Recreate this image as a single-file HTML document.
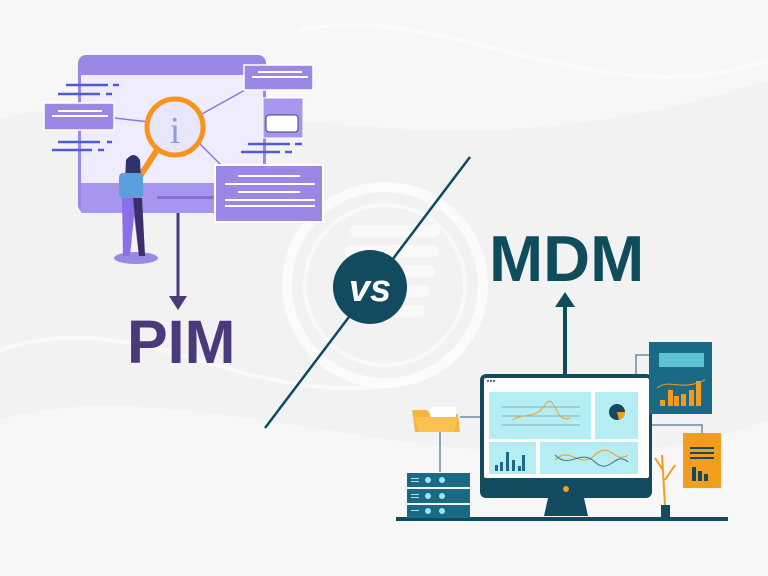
<!DOCTYPE html>
<html><head><style>body{margin:0;background:#f1f1f1}svg{display:block}</style></head><body>
<svg width="768" height="576" viewBox="0 0 768 576" xmlns="http://www.w3.org/2000/svg" font-family="Liberation Sans, sans-serif">
<rect width="768" height="576" fill="#f2f2f2"/>
<path d="M0 120 C200 60 400 200 768 80 L768 0 L0 0Z" fill="#f7f7f7"/>
<path d="M0 420 C200 360 500 520 768 420 L768 576 L0 576Z" fill="#f7f7f7"/>
<path d="M300 30 C450 0 600 120 768 60" stroke="#fff" stroke-width="4" fill="none" opacity=".5"/>
<path d="M0 350 C150 300 250 420 420 380" stroke="#fff" stroke-width="4" fill="none" opacity=".5"/>
<!-- watermark -->
<circle cx="385" cy="285" r="98" fill="none" stroke="#fff" stroke-width="10" opacity=".7"/>
<circle cx="385" cy="285" r="80" fill="none" stroke="#fff" stroke-width="4" opacity=".5"/>
<g fill="#fff" opacity=".6"><rect x="350" y="225" width="90" height="12" rx="6"/><rect x="345" y="245" width="95" height="12" rx="6"/><rect x="345" y="265" width="90" height="12" rx="6"/><rect x="350" y="285" width="80" height="12" rx="6"/><rect x="355" y="305" width="70" height="12" rx="6"/></g>
<!-- left monitor -->
<rect x="78" y="55" width="188" height="158" rx="8" fill="#9b87e6"/>
<rect x="81" y="75" width="182" height="108" fill="#efecfd"/>
<rect x="81" y="183" width="182" height="30" fill="#a896ee"/>
<rect x="157" y="196" width="60" height="3" fill="#8472d6"/>
<line x1="178" y1="213" x2="178" y2="298" stroke="#4b3a7a" stroke-width="3"/>
<polygon points="169,296 187,296 178,310" fill="#4b3a7a"/>
<g stroke="#4f5bd5" stroke-width="2.5"><line x1="66" y1="85" x2="108" y2="85"/><line x1="113" y1="85" x2="119" y2="85"/><line x1="58" y1="94" x2="100" y2="94"/><line x1="106" y1="94" x2="112" y2="94"/><line x1="58" y1="142" x2="100" y2="142"/><line x1="107" y1="142" x2="112" y2="142"/><line x1="52" y1="150" x2="92" y2="150"/><line x1="98" y1="150" x2="104" y2="150"/><line x1="248" y1="144" x2="290" y2="144"/><line x1="295" y1="144" x2="302" y2="144"/><line x1="241" y1="152" x2="280" y2="152"/><line x1="285" y1="152" x2="292" y2="152"/></g>
<g stroke="#8a78e0" stroke-width="1.5"><line x1="114" y1="118" x2="150" y2="122"/><line x1="200" y1="115" x2="245" y2="90"/><line x1="198" y1="142" x2="222" y2="166"/></g>
<rect x="44" y="103" width="70" height="27" fill="#9b87e6" stroke="#fff" stroke-width="1.5"/>
<rect x="58" y="110" width="44" height="2" fill="#fff"/><rect x="52" y="115" width="56" height="2" fill="#fff"/>
<rect x="244" y="65" width="69" height="25" fill="#9b87e6" stroke="#fff" stroke-width="1.5"/>
<rect x="258" y="71" width="44" height="2" fill="#fff"/><rect x="252" y="76" width="56" height="2" fill="#fff"/>
<rect x="263" y="98" width="40" height="40" fill="#a896ee" stroke="#fff"/>
<rect x="266" y="115" width="32" height="17" rx="3" fill="#fff" stroke="#4b3a7a"/>
<rect x="215" y="165" width="108" height="57" fill="#9b87e6" stroke="#fff" stroke-width="2"/>
<g fill="#fff"><rect x="238" y="175" width="62" height="2"/><rect x="225" y="183" width="90" height="2"/><rect x="238" y="191" width="62" height="2"/><rect x="225" y="199" width="90" height="2"/><rect x="225" y="205" width="90" height="2"/></g>
<!-- magnifier -->
<circle cx="175" cy="127" r="28" fill="#e8e6fb" stroke="#f7941d" stroke-width="5"/>
<text x="175" y="143" font-family="Liberation Serif, serif" font-size="38" fill="#8f9be0" text-anchor="middle">i</text>
<line x1="157" y1="150" x2="126" y2="198" stroke="#f7941d" stroke-width="6" stroke-linecap="round"/>
<!-- woman -->
<ellipse cx="136" cy="258" rx="22" ry="6" fill="#9b87e6"/>
<path d="M126 160 q8 -10 14 0 l1 20 h-16z" fill="#2e3470"/>
<rect x="119" y="173" width="24" height="25" rx="4" fill="#5aa0dc"/>
<path d="M122 198 h20 l3 58 h-6 l-5 -40 l-4 40 h-7z" fill="#8a6fe6"/>
<path d="M133 198 h9 l3 58 h-6z" fill="#3c2f6e"/>
<!-- PIM -->
<text x="127" y="363" font-size="61" font-weight="bold" fill="#4a3a7c">PIM</text>
<!-- diagonal -->
<line x1="265" y1="428" x2="470" y2="157" stroke="#0f4a5f" stroke-width="2.5"/>
<circle cx="370" cy="287" r="37" fill="#124b5f"/>
<text x="370" y="301" font-size="38" font-weight="bold" font-style="italic" fill="#fff" text-anchor="middle">vs</text>
<!-- MDM -->
<text x="489" y="281" font-size="65" font-weight="bold" fill="#0f4c5c">MDM</text>
<line x1="565" y1="305" x2="565" y2="375" stroke="#0f4c5c" stroke-width="4"/>
<polygon points="555,307 575,307 565,292" fill="#0f4c5c"/>
<!-- right connectors -->
<g stroke="#6a8e9a" stroke-width="1.5" fill="none"><polyline points="649,355 636,355 636,375"/><polyline points="652,425 702,425 702,433"/><polyline points="460,417 480,417"/><line x1="440" y1="432" x2="440" y2="472"/></g>
<!-- right monitor -->
<rect x="480" y="374" width="172" height="124" rx="6" fill="#124b5f"/>
<rect x="484" y="378" width="165" height="100" rx="2" fill="#fff"/>
<g fill="#124b5f"><circle cx="488" cy="381" r="1"/><circle cx="491" cy="381" r="1"/><circle cx="494" cy="381" r="1"/></g>
<circle cx="566" cy="489" r="3" fill="#f39c1e"/>
<path d="M548 498 h36 l4 18 h-44z" fill="#124b5f"/>
<rect x="396" y="517" width="332" height="4" fill="#124b5f"/>
<rect x="489" y="392" width="102" height="47" fill="#b5eef2"/>
<g stroke="#4a6e7a" stroke-width=".6"><line x1="502" y1="407" x2="580" y2="407"/><line x1="502" y1="416" x2="580" y2="416"/><line x1="502" y1="425" x2="580" y2="425"/></g>
<path d="M512 420 C525 412 535 420 545 405 S555 425 570 418" stroke="#f39c1e" fill="none"/>
<rect x="595" y="392" width="43" height="47" fill="#b5eef2"/>
<circle cx="617" cy="412" r="8" fill="#124b5f"/><path d="M617 412 h8 a8 8 0 0 1 -6 8z" fill="#f39c1e"/>
<rect x="489" y="442" width="47" height="32" fill="#b5eef2"/>
<g fill="#1a6a85"><rect x="495" y="465" width="3" height="6"/><rect x="500" y="462" width="3" height="9"/><rect x="506" y="452" width="3" height="19"/><rect x="512" y="460" width="3" height="11"/><rect x="518" y="466" width="3" height="5"/><rect x="522" y="455" width="3" height="16"/></g>
<rect x="540" y="442" width="98" height="32" fill="#b5eef2"/>
<path d="M555 460 C570 445 580 470 595 455 S615 465 628 455" stroke="#f39c1e" fill="none"/>
<path d="M555 455 C570 470 580 448 595 462 S615 450 628 462" stroke="#4a6e7a" fill="none"/>
<!-- report panel -->
<rect x="649" y="342" width="63" height="72" fill="#1a6a85"/>
<rect x="659" y="353" width="45" height="14" fill="#5cc3d4"/>
<g fill="#f39c1e"><rect x="660" y="400" width="5" height="6"/><rect x="668" y="390" width="5" height="16"/><rect x="674" y="396" width="5" height="10"/><rect x="681" y="394" width="5" height="12"/><rect x="689" y="390" width="5" height="16"/><rect x="696" y="381" width="5" height="25"/></g>
<path d="M657 388 C670 378 680 392 705 380" stroke="#f39c1e" fill="none"/>
<!-- orange doc -->
<rect x="683" y="433" width="38" height="55" fill="#f39c1e"/>
<g fill="#124b5f"><rect x="690" y="447" width="24" height="2"/><rect x="690" y="452" width="24" height="2"/><rect x="690" y="457" width="24" height="2"/><rect x="692" y="467" width="4" height="14"/><rect x="698" y="471" width="4" height="10"/><rect x="704" y="474" width="4" height="7"/></g>
<!-- plant -->
<path d="M665 505 l-3 -50 M665 480 l10 -15 M663 470 l-8 -12" stroke="#f39c1e" stroke-width="2" fill="none"/>
<rect x="661" y="505" width="9" height="12" fill="#124b5f"/>
<!-- folder -->
<path d="M412 410 h15 l3 4 h28 l2 18 h-45z" fill="#f5b545"/>
<rect x="430" y="407" width="26" height="18" fill="#fff"/>
<path d="M414 417 h44 l-4 15 h-35z" fill="#fbc251"/>
<!-- servers -->
<g fill="#1a6a85"><rect x="407" y="473" width="63" height="14"/><rect x="407" y="489" width="63" height="14"/><rect x="407" y="505" width="63" height="13"/></g>
<g fill="#9fe3ee"><circle cx="428" cy="480" r="3"/><circle cx="442" cy="480" r="3"/><circle cx="428" cy="496" r="3"/><circle cx="442" cy="496" r="3"/><circle cx="428" cy="511" r="3"/><circle cx="442" cy="511" r="3"/><rect x="411" y="478" width="8" height="1"/><rect x="411" y="481" width="8" height="1"/><rect x="411" y="494" width="8" height="1"/><rect x="411" y="497" width="8" height="1"/><rect x="411" y="510" width="8" height="1"/></g>
</svg>
</body></html>
